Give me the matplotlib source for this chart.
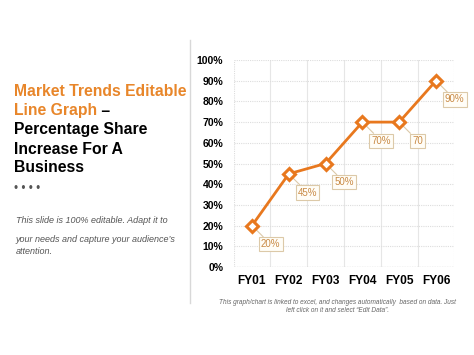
import matplotlib
matplotlib.use("Agg")
import matplotlib.pyplot as plt
from matplotlib.ticker import FuncFormatter

categories = ["FY01", "FY02", "FY03", "FY04", "FY05", "FY06"]
values = [20, 45, 50, 70, 70, 90]
point_labels = ["20%", "45%", "50%", "70%", "70", "90%"]
yticks = [0, 10, 20, 30, 40, 50, 60, 70, 80, 90, 100]

W, H = 474, 355
fig = plt.figure(figsize=(W / 100, H / 100), dpi=100)
fig.patch.set_facecolor("white")
plt.rcParams['font.family'] = ['Liberation Sans', 'DejaVu Sans']

ORANGE = "#E8781E"
TITLE_OR = "#E8862A"

# separator line
fig.add_artist(plt.Line2D([190 / W, 190 / W], [1 - 40 / H, 1 - 303 / H],
                          color="#D8D8D8", lw=1.0))

# axes
l, r, t, b = 233.6, 454.4, 60, 267
ax = fig.add_axes([l / W, 1 - b / H, (r - l) / W, (b - t) / H])
x = list(range(len(categories)))
ax.plot(x, values, color=ORANGE, lw=2.0, marker="D", ms=6.3,
        markerfacecolor="white", markeredgecolor=ORANGE, markeredgewidth=2.2,
        zorder=5)
ax.set_xlim(-0.5, len(categories) - 0.5)
ax.set_ylim(0, 100)
ax.set_yticks(yticks)
ax.yaxis.set_major_formatter(FuncFormatter(lambda v, p: f"{int(v)}%"))
ax.set_xticks(x)
ax.set_xticklabels(categories)
ax.set_xticks([i + 0.5 for i in range(len(categories) - 1)], minor=True)
for s in ax.spines.values():
    s.set_visible(False)
ax.tick_params(axis="both", which="both", length=0)
ax.tick_params(axis="y", labelsize=7.5, pad=7.5)
ax.tick_params(axis="x", labelsize=8.6, pad=6)
for lab in ax.get_yticklabels() + ax.get_xticklabels():
    lab.set_fontweight("bold")
ax.grid(True, axis="y", which="major", color="#DDDDDD", lw=0.8, ls=(0, (1, 1)))
ax.grid(True, axis="x", which="minor", color="#E6E6E6", lw=0.8, ls="-")
ax.axvline(-0.5, color="#DDDDDD", lw=0.8, ls=(0, (1, 1)))
ax.axvline(len(categories) - 0.5, color="#DDDDDD", lw=0.8, ls=(0, (1, 1)))
ax.axhline(0, color="#BBBBBB", lw=0.9, ls=(0, (1, 1)))
ax.set_axisbelow(True)

for xi, v, lab in zip(x, values, point_labels):
    ax.annotate(lab, xy=(xi, v), xytext=(13.5, -13.5), textcoords="offset points",
                fontsize=7, color="#C98A45", ha="center", va="center",
                bbox=dict(boxstyle="square,pad=0.22", fc="#FFFDF7", ec="#DCC9A8", lw=0.8),
                arrowprops=dict(arrowstyle="-", color="#DCC9A8", lw=0.8, shrinkA=0, shrinkB=0),
                zorder=4)

# title
fs = 11.35
tx = 14 / W
line_y = [91, 111, 130, 149, 168]
fig.text(tx, 1 - line_y[0] / H, "Market Trends Editable", color=TITLE_OR,
         fontsize=fs, fontweight="bold", va="center")
t2 = fig.text(tx, 1 - line_y[1] / H, "Line Graph", color=TITLE_OR,
              fontsize=fs, fontweight="bold", va="center")
fig.canvas.draw()
bb = t2.get_window_extent(renderer=fig.canvas.get_renderer())
fig.text(bb.x1 / W, 1 - line_y[1] / H, " \u2013", color="black",
         fontsize=fs, fontweight="bold", va="center")
for yy, s in zip(line_y[2:], ["Percentage Share", "Increase For A", "Business"]):
    fig.text(tx, 1 - yy / H, s, color="black", fontsize=fs, fontweight="bold", va="center")

fig.text(tx, 1 - 189 / H, "\u2022 \u2022 \u2022 \u2022", color="#555555", fontsize=8.5,
         va="center")

desc = ["This slide is 100% editable. Adapt it to",
        "your needs and capture your audience\u2019s",
        "attention."]
for yy, s in zip([221, 239, 252], desc):
    fig.text(16 / W, 1 - yy / H, s, color="#555555", fontsize=6.5, style="italic",
             va="center")

fig.text(337 / W, 1 - 302 / H,
         "This graph/chart is linked to excel, and changes automatically  based on data. Just",
         color="#666666", fontsize=4.7, style="italic", ha="center", va="center")
fig.text(337 / W, 1 - 310 / H,
         "left click on it and select \u201cEdit Data\u201d.",
         color="#666666", fontsize=4.7, style="italic", ha="center", va="center")

fig.savefig("out.png", dpi=100)
